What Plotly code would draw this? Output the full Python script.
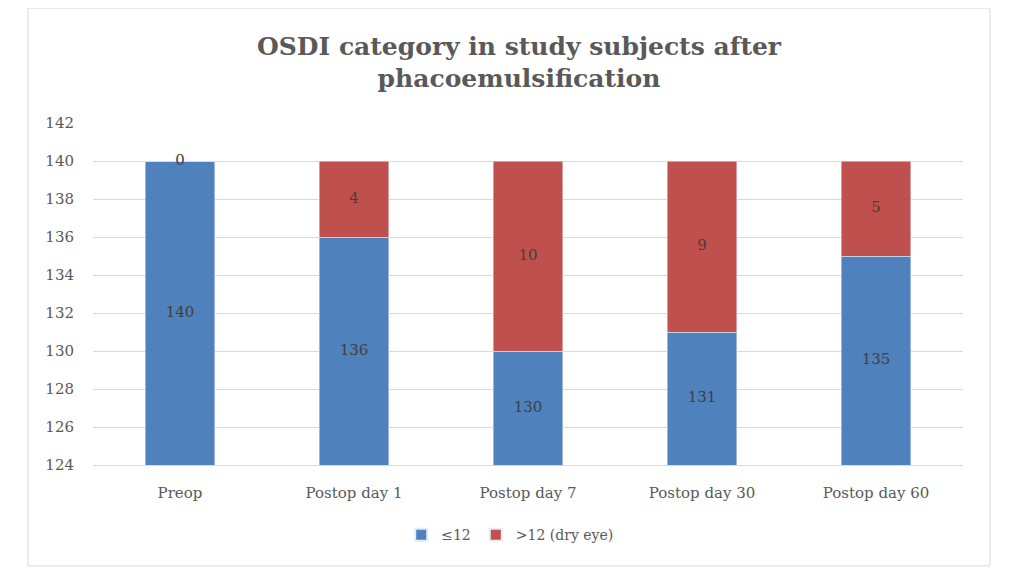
import plotly.graph_objs as go

# data
categories = ["Preop", "Postop day 1", "Postop day 7", "Postop day 30", "Postop day 60"]
normal = [140, 136, 130, 131, 135]     # OSDI <= 12
dry_eye = [0, 4, 10, 9, 5]             # OSDI > 12
y_min, y_max = 124, 142

serif = "DejaVu Serif, serif"
blue = "#4f81bd"
red = "#c0504d"

fig = go.Figure()
fig.add_trace(go.Bar(x=categories, y=normal, name="≤12", marker_color=blue, width=0.4))
fig.add_trace(go.Bar(x=categories, y=dry_eye, name=">12 (dry eye)", marker_color=red, width=0.4))

# labels sit in the middle of the visible part of each segment
blue_mid = [(y_min + n) / 2 for n in normal]
red_mid = [n + d / 2 for n, d in zip(normal, dry_eye)]
lbl_font = dict(family=serif, size=15, color="#404040")
fig.add_trace(go.Scatter(x=categories, y=blue_mid, text=[str(v) for v in normal], mode="text",
                         textfont=lbl_font, showlegend=False, hoverinfo="skip"))
fig.add_trace(go.Scatter(x=categories, y=red_mid, text=[str(v) for v in dry_eye], mode="text",
                         textfont=lbl_font, showlegend=False, hoverinfo="skip"))

# page body has an 8px margin, so the figure is shifted up/left by 8px here
fig.update_layout(
    width=1002, height=568,
    barmode="stack",
    paper_bgcolor="white", plot_bgcolor="white",
    margin=dict(l=85, r=47, t=115, b=111),
    font=dict(family=serif, size=15, color="#595959"),
    title=dict(text="<b>OSDI category in study subjects after<br>phacoemulsification</b>",
               x=0.51, xanchor="center", y=0.918, yanchor="middle",
               font=dict(family=serif, size=25, color="#595959")),
    legend=dict(orientation="h", x=0.479, xanchor="center", y=-0.205, yanchor="middle",
                font=dict(family=serif, size=14, color="#595959"), traceorder="normal",
                itemsizing="constant"),
    shapes=[dict(type="rect", xref="paper", yref="paper", x0=-0.0747, x1=1.031, y0=-0.295, y1=1.336,
                 line=dict(color="#d9d9d9", width=1))],
)
fig.update_yaxes(range=[y_min, y_max], dtick=2, showgrid=True, gridcolor="#d9d9d9",
                 zeroline=False, ticks="", ticklabelstandoff=18)
fig.update_xaxes(showline=True, linecolor="#d9d9d9", ticks="", showgrid=False,
                 ticklabelstandoff=14)

fig.write_html("out.html")
